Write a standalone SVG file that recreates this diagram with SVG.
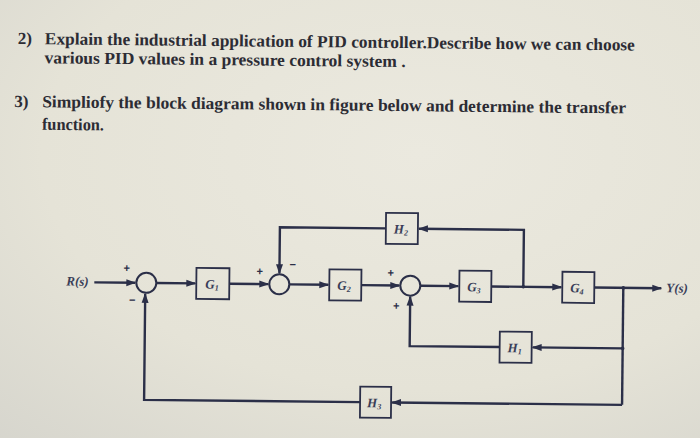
<svg xmlns="http://www.w3.org/2000/svg" width="700" height="438" viewBox="0 0 700 438">
  <defs>
    <radialGradient id="bg" cx="0.6" cy="0.35" r="0.9">
      <stop offset="0" stop-color="#ebe9df"/>
      <stop offset="0.6" stop-color="#e5e3d7"/>
      <stop offset="1" stop-color="#d6d5cd"/>
    </radialGradient>
    <marker id="ah" markerWidth="10" markerHeight="8" refX="9" refY="4" orient="auto" markerUnits="userSpaceOnUse">
      <path d="M0,0.5 L10,4 L0,7.5 Z" fill="#2b2f48"/>
    </marker>
    <style>
      .q { font-family: "Liberation Serif", serif; font-weight: bold; font-size: 17px; fill: #2c2c34; }
      .ln { fill: none; stroke: #2b2f48; stroke-width: 2.4; stroke-linejoin: miter; }
      .ar { marker-end: url(#ah); }
      .box { fill: none; stroke: #2b2f48; stroke-width: 1.8; }
      .sum { fill: none; stroke: #2b2f48; stroke-width: 2; }
      .lb { font-family: "Liberation Serif", serif; font-style: italic; font-weight: bold; font-size: 13px; fill: #3a3e58; }
      .sub { font-size: 8px; }
      .sg { font-family: "Liberation Sans", sans-serif; font-weight: bold; font-size: 11px; fill: #2b2f48; }
      .dot { fill: #2b2f48; }
    </style>
  </defs>
  <rect x="0" y="0" width="700" height="438" fill="url(#bg)"/>
  <g transform="rotate(0.6 350 219)">
    <g id="text">
      <text class="q" x="16" y="47.5">2)</text>
      <text class="q" x="43" y="47.5" textLength="590" lengthAdjust="spacingAndGlyphs">Explain the industrial application of PID controller.Describe how we can choose</text>
      <text class="q" x="43" y="66.5" textLength="361" lengthAdjust="spacingAndGlyphs">various PID values in a pressure control system .</text>
      <text class="q" x="13" y="110.5">3)</text>
      <text class="q" x="41" y="110.5" textLength="584" lengthAdjust="spacingAndGlyphs">Simpliofy the block diagram shown in figure below and determine the transfer</text>
      <text class="q" x="41" y="133" textLength="62" lengthAdjust="spacingAndGlyphs">function.</text>
    </g>

    <g id="connectors">
      <path class="ln ar" d="M95,285 H136"/>
      <path class="ln ar" d="M157,285 H196"/>
      <path class="ln ar" d="M230,285 H269"/>
      <path class="ln ar" d="M290,285 H329"/>
      <path class="ln ar" d="M362,285 H400"/>
      <path class="ln ar" d="M421,285 H459"/>
      <path class="ln ar" d="M492,285 H562"/>
      <path class="ln ar" d="M595,285 H662"/>
      <path class="ln ar" d="M524,285 V228 H419"/>
      <path class="ln ar" d="M386,228 H280 V274"/>
      <path class="ln" d="M624,285 V402"/>
      <path class="ln ar" d="M624,345.5 H534"/>
      <path class="ln ar" d="M501,345.5 H411 V296"/>
      <path class="ln ar" d="M624,402 H394"/>
      <path class="ln ar" d="M362,402 H146 V296"/>
      <circle class="dot" cx="524" cy="285" r="1.8"/>
      <circle class="dot" cx="624" cy="285" r="1.8"/>
      <circle class="dot" cx="624" cy="345.5" r="1.8"/>
    </g>

    <g id="Rs"><text class="lb" x="67" y="288.5" font-size="11">R(s)</text></g>
    <g id="Ys"><text class="lb" x="667" y="289" font-size="11">Y(s)</text></g>

    <g id="J1">
      <circle class="sum" cx="147" cy="285" r="10"/>
      <text class="sg" x="124" y="274">+</text>
      <text class="sg" x="130" y="306">−</text>
    </g>
    <g id="J2">
      <circle class="sum" cx="280" cy="285" r="10"/>
      <text class="sg" x="257" y="276">+</text>
      <text class="sg" x="290" y="269">−</text>
    </g>
    <g id="J3">
      <circle class="sum" cx="411" cy="285" r="10"/>
      <text class="sg" x="388" y="276">+</text>
      <text class="sg" x="394" y="309">+</text>
    </g>

    <g id="G1">
      <rect class="box" x="197" y="269.5" width="33" height="31"/>
      <text class="lb" x="206" y="290">G<tspan class="sub" dy="2">1</tspan></text>
    </g>
    <g id="G2">
      <rect class="box" x="330" y="269.5" width="32" height="31"/>
      <text class="lb" x="338" y="290">G<tspan class="sub" dy="2">2</tspan></text>
    </g>
    <g id="G3">
      <rect class="box" x="460" y="269.5" width="32" height="31"/>
      <text class="lb" x="468" y="290">G<tspan class="sub" dy="2">3</tspan></text>
    </g>
    <g id="G4">
      <rect class="box" x="563" y="269.5" width="32" height="31"/>
      <text class="lb" x="571" y="290">G<tspan class="sub" dy="2">4</tspan></text>
    </g>
    <g id="H2">
      <rect class="box" x="386" y="212.5" width="32" height="31"/>
      <text class="lb" x="394" y="233">H<tspan class="sub" dy="2">2</tspan></text>
    </g>
    <g id="H1">
      <rect class="box" x="501" y="330" width="32" height="31"/>
      <text class="lb" x="509" y="350.5">H<tspan class="sub" dy="2">1</tspan></text>
    </g>
    <g id="H3">
      <rect class="box" x="362" y="386.5" width="31" height="31"/>
      <text class="lb" x="369" y="407">H<tspan class="sub" dy="2">3</tspan></text>
    </g>
  </g>
</svg>
